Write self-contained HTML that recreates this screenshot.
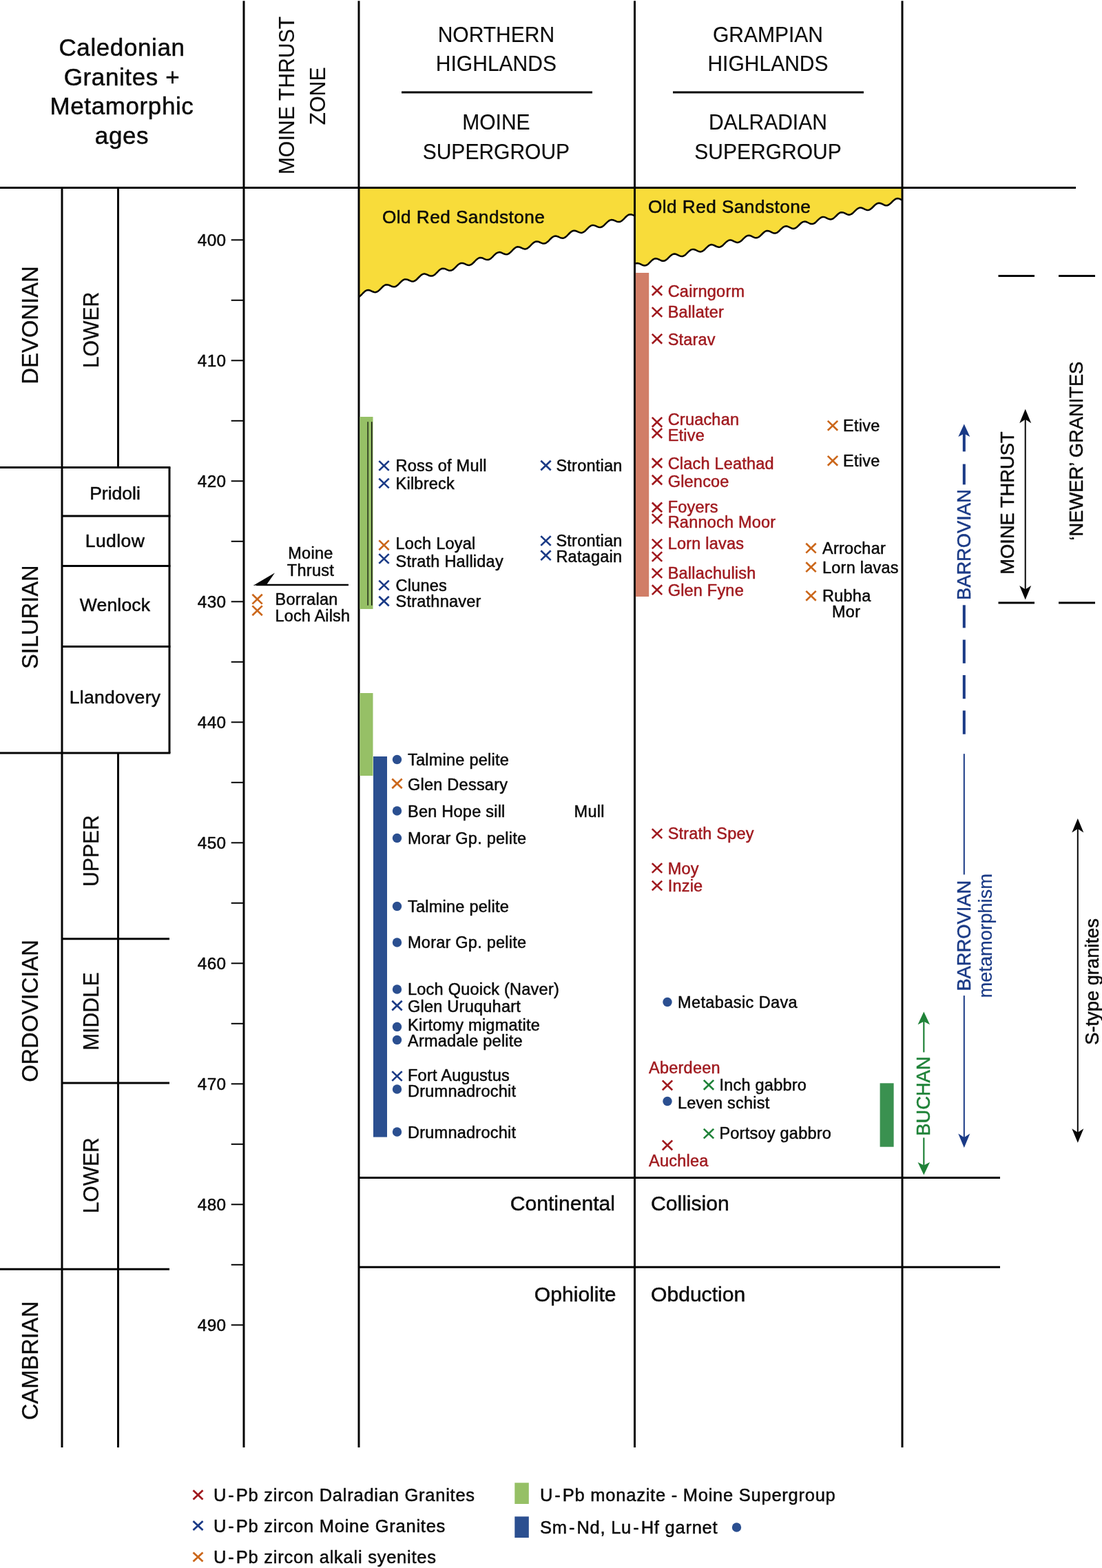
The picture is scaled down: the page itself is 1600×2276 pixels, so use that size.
<!DOCTYPE html>
<html lang="en"><head><meta charset="utf-8"><title>Caledonian Granites + Metamorphic ages</title>
<style>
html,body{margin:0;padding:0;background:#fff;}
body{width:1600px;height:2276px;overflow:hidden;}
svg{display:block;font-family:"Liberation Sans", sans-serif;}
svg text{white-space:pre;stroke-width:0.5px;stroke-linejoin:round;}
</style></head><body>
<svg width="1600" height="2276" viewBox="0 0 1600 2276">
<rect width="1600" height="2276" fill="#ffffff"/>
<path d="M521.0 431.0L523.0 429.5L525.0 427.6L527.0 425.5L529.0 423.6L531.0 422.1L533.0 421.2L535.0 421.1L537.0 421.5L539.0 422.4L541.0 423.3L543.0 424.0L545.0 424.2L547.0 423.8L549.0 422.6L551.0 420.9L553.0 418.9L555.0 416.8L557.0 415.0L559.0 413.8L561.0 413.2L563.1 413.4L565.1 414.0L567.1 414.9L569.1 415.8L571.1 416.3L573.1 416.3L575.1 415.5L577.1 414.1L579.1 412.2L581.1 410.2L583.1 408.2L585.1 406.6L587.1 405.6L589.1 405.4L591.1 405.7L593.1 406.5L595.1 407.4L597.1 408.2L599.1 408.5L601.1 408.2L603.1 407.2L605.1 405.5L607.1 403.5L609.1 401.5L611.1 399.6L613.1 398.3L615.1 397.6L617.1 397.6L619.1 398.2L621.1 399.1L623.1 400.0L625.1 400.6L627.1 400.6L629.1 400.0L631.1 398.7L633.1 396.9L635.1 394.8L637.1 392.8L639.1 391.1L641.1 390.1L643.2 389.7L645.2 389.9L647.2 390.7L649.2 391.6L651.2 392.4L653.2 392.8L655.2 392.6L657.2 391.7L659.2 390.1L661.2 388.2L663.2 386.1L665.2 384.2L667.2 382.8L669.2 382.0L671.2 381.9L673.2 382.3L675.2 383.2L677.2 384.1L679.2 384.8L681.2 385.0L683.2 384.4L685.2 383.3L687.2 381.5L689.2 379.5L691.2 377.4L693.2 375.7L695.2 374.5L697.2 374.0L699.2 374.2L701.2 374.8L703.2 375.8L705.2 376.6L707.2 377.1L709.2 377.0L711.2 376.2L713.2 374.7L715.2 372.8L717.2 370.7L719.2 368.8L721.2 367.3L723.3 366.4L725.3 366.1L727.3 366.5L729.3 367.4L731.3 368.3L733.3 369.0L735.3 369.3L737.3 368.9L739.3 367.8L741.3 366.1L743.3 364.1L745.3 362.0L747.3 360.2L749.3 358.9L751.3 358.3L753.3 358.4L755.3 359.0L757.3 359.9L759.3 360.8L761.3 361.4L763.3 361.4L765.3 360.7L767.3 359.3L769.3 357.5L771.3 355.4L773.3 353.4L775.3 351.8L777.3 350.8L779.3 350.4L781.3 350.7L783.3 351.5L785.3 352.4L787.3 353.2L789.3 353.6L791.3 353.3L793.3 352.3L795.3 350.8L797.3 348.8L799.3 346.7L801.4 344.8L803.4 343.4L805.4 342.7L807.4 342.6L809.4 343.2L811.4 344.0L813.4 345.0L815.4 345.6L817.4 345.7L819.4 345.1L821.4 343.9L823.4 342.1L825.4 340.0L827.4 338.0L829.4 336.3L831.4 335.2L833.4 334.7L835.4 335.0L837.4 335.7L839.4 336.6L841.4 337.4L843.4 337.9L845.4 337.7L847.4 336.8L849.4 335.4L851.4 333.4L853.4 331.3L855.4 329.4L857.4 327.9L859.4 327.1L861.4 326.9L863.4 327.4L865.4 328.2L867.4 329.1L869.4 329.8L871.4 330.0L873.4 329.6L875.4 328.4L877.4 326.7L879.4 324.7L881.5 322.6L883.5 320.9L885.5 319.6L887.5 319.1L889.5 319.2L891.5 319.8L893.5 320.7L895.5 321.6L897.5 322.1L899.5 322.1L901.5 321.3L903.5 319.9L905.5 318.1L907.5 316.0L909.5 314.0L911.5 312.4L913.5 311.5L915.5 311.2L917.5 311.6L919.5 312.4L921.5 313.3L921.5 272.5L521 272.5Z" fill="#f8dc3a"/>
<path d="M521.0 431.0L523.0 429.5L525.0 427.6L527.0 425.5L529.0 423.6L531.0 422.1L533.0 421.2L535.0 421.1L537.0 421.5L539.0 422.4L541.0 423.3L543.0 424.0L545.0 424.2L547.0 423.8L549.0 422.6L551.0 420.9L553.0 418.9L555.0 416.8L557.0 415.0L559.0 413.8L561.0 413.2L563.1 413.4L565.1 414.0L567.1 414.9L569.1 415.8L571.1 416.3L573.1 416.3L575.1 415.5L577.1 414.1L579.1 412.2L581.1 410.2L583.1 408.2L585.1 406.6L587.1 405.6L589.1 405.4L591.1 405.7L593.1 406.5L595.1 407.4L597.1 408.2L599.1 408.5L601.1 408.2L603.1 407.2L605.1 405.5L607.1 403.5L609.1 401.5L611.1 399.6L613.1 398.3L615.1 397.6L617.1 397.6L619.1 398.2L621.1 399.1L623.1 400.0L625.1 400.6L627.1 400.6L629.1 400.0L631.1 398.7L633.1 396.9L635.1 394.8L637.1 392.8L639.1 391.1L641.1 390.1L643.2 389.7L645.2 389.9L647.2 390.7L649.2 391.6L651.2 392.4L653.2 392.8L655.2 392.6L657.2 391.7L659.2 390.1L661.2 388.2L663.2 386.1L665.2 384.2L667.2 382.8L669.2 382.0L671.2 381.9L673.2 382.3L675.2 383.2L677.2 384.1L679.2 384.8L681.2 385.0L683.2 384.4L685.2 383.3L687.2 381.5L689.2 379.5L691.2 377.4L693.2 375.7L695.2 374.5L697.2 374.0L699.2 374.2L701.2 374.8L703.2 375.8L705.2 376.6L707.2 377.1L709.2 377.0L711.2 376.2L713.2 374.7L715.2 372.8L717.2 370.7L719.2 368.8L721.2 367.3L723.3 366.4L725.3 366.1L727.3 366.5L729.3 367.4L731.3 368.3L733.3 369.0L735.3 369.3L737.3 368.9L739.3 367.8L741.3 366.1L743.3 364.1L745.3 362.0L747.3 360.2L749.3 358.9L751.3 358.3L753.3 358.4L755.3 359.0L757.3 359.9L759.3 360.8L761.3 361.4L763.3 361.4L765.3 360.7L767.3 359.3L769.3 357.5L771.3 355.4L773.3 353.4L775.3 351.8L777.3 350.8L779.3 350.4L781.3 350.7L783.3 351.5L785.3 352.4L787.3 353.2L789.3 353.6L791.3 353.3L793.3 352.3L795.3 350.8L797.3 348.8L799.3 346.7L801.4 344.8L803.4 343.4L805.4 342.7L807.4 342.6L809.4 343.2L811.4 344.0L813.4 345.0L815.4 345.6L817.4 345.7L819.4 345.1L821.4 343.9L823.4 342.1L825.4 340.0L827.4 338.0L829.4 336.3L831.4 335.2L833.4 334.7L835.4 335.0L837.4 335.7L839.4 336.6L841.4 337.4L843.4 337.9L845.4 337.7L847.4 336.8L849.4 335.4L851.4 333.4L853.4 331.3L855.4 329.4L857.4 327.9L859.4 327.1L861.4 326.9L863.4 327.4L865.4 328.2L867.4 329.1L869.4 329.8L871.4 330.0L873.4 329.6L875.4 328.4L877.4 326.7L879.4 324.7L881.5 322.6L883.5 320.9L885.5 319.6L887.5 319.1L889.5 319.2L891.5 319.8L893.5 320.7L895.5 321.6L897.5 322.1L899.5 322.1L901.5 321.3L903.5 319.9L905.5 318.1L907.5 316.0L909.5 314.0L911.5 312.4L913.5 311.5L915.5 311.2L917.5 311.6L919.5 312.4L921.5 313.3" fill="none" stroke="#050505" stroke-width="2.5" stroke-linejoin="round"/>
<path d="M921.5 383.2L923.5 382.2L925.5 382.0L927.5 382.4L929.5 383.2L931.5 384.2L933.5 385.1L935.5 385.5L937.5 385.3L939.5 384.4L941.5 382.9L943.5 380.9L945.5 378.9L947.5 377.1L949.5 375.9L951.5 375.3L953.5 375.4L955.5 376.1L957.5 377.0L959.5 378.0L961.6 378.7L963.6 378.8L965.6 378.2L967.6 376.9L969.6 375.2L971.6 373.2L973.6 371.2L975.6 369.7L977.6 368.8L979.6 368.5L981.6 369.0L983.6 369.8L985.6 370.9L987.6 371.7L989.6 372.1L991.6 371.9L993.6 370.9L995.6 369.4L997.6 367.4L999.6 365.4L1001.6 363.7L1003.6 362.4L1005.6 361.9L1007.6 362.0L1009.6 362.7L1011.6 363.7L1013.6 364.6L1015.6 365.3L1017.6 365.4L1019.6 364.8L1021.6 363.5L1023.6 361.7L1025.6 359.7L1027.6 357.8L1029.6 356.2L1031.6 355.3L1033.6 355.1L1035.6 355.6L1037.6 356.5L1039.7 357.5L1041.7 358.3L1043.7 358.7L1045.7 358.4L1047.7 357.5L1049.7 355.9L1051.7 353.9L1053.7 351.9L1055.7 350.2L1057.7 349.0L1059.7 348.4L1061.7 348.6L1063.7 349.3L1065.7 350.3L1067.7 351.2L1069.7 351.9L1071.7 351.9L1073.7 351.3L1075.7 350.0L1077.7 348.2L1079.7 346.2L1081.7 344.3L1083.7 342.8L1085.7 341.9L1087.7 341.7L1089.7 342.2L1091.7 343.1L1093.7 344.1L1095.7 344.9L1097.7 345.3L1099.7 345.0L1101.7 344.0L1103.7 342.4L1105.7 340.5L1107.7 338.5L1109.7 336.7L1111.7 335.5L1113.7 335.0L1115.8 335.2L1117.8 335.9L1119.8 336.9L1121.8 337.9L1123.8 338.5L1125.8 338.5L1127.8 337.9L1129.8 336.5L1131.8 334.7L1133.8 332.7L1135.8 330.8L1137.8 329.3L1139.8 328.5L1141.8 328.3L1143.8 328.8L1145.8 329.7L1147.8 330.7L1149.8 331.5L1151.8 331.9L1153.8 331.6L1155.8 330.5L1157.8 328.9L1159.8 327.0L1161.8 325.0L1163.8 323.3L1165.8 322.1L1167.8 321.6L1169.8 321.8L1171.8 322.5L1173.8 323.5L1175.8 324.5L1177.8 325.1L1179.8 325.1L1181.8 324.4L1183.8 323.1L1185.8 321.2L1187.8 319.2L1189.8 317.3L1191.8 315.9L1193.9 315.0L1195.9 314.9L1197.9 315.4L1199.9 316.3L1201.9 317.3L1203.9 318.1L1205.9 318.5L1207.9 318.1L1209.9 317.1L1211.9 315.4L1213.9 313.5L1215.9 311.5L1217.9 309.8L1219.9 308.6L1221.9 308.2L1223.9 308.4L1225.9 309.1L1227.9 310.1L1229.9 311.1L1231.9 311.7L1233.9 311.7L1235.9 310.9L1237.9 309.6L1239.9 307.7L1241.9 305.7L1243.9 303.8L1245.9 302.4L1247.9 301.6L1249.9 301.5L1251.9 302.0L1253.9 302.9L1255.9 303.9L1257.9 304.7L1259.9 305.0L1261.9 304.7L1263.9 303.6L1265.9 302.0L1267.9 300.0L1269.9 298.0L1272.0 296.3L1274.0 295.2L1276.0 294.7L1278.0 295.0L1280.0 295.7L1282.0 296.7L1284.0 297.7L1286.0 298.3L1288.0 298.2L1290.0 297.5L1292.0 296.1L1294.0 294.3L1296.0 292.2L1298.0 290.4L1300.0 288.9L1302.0 288.2L1304.0 288.1L1306.0 288.6L1308.0 289.5L1310.0 290.6L1310 272.5L921.5 272.5Z" fill="#f8dc3a"/>
<path d="M921.5 383.2L923.5 382.2L925.5 382.0L927.5 382.4L929.5 383.2L931.5 384.2L933.5 385.1L935.5 385.5L937.5 385.3L939.5 384.4L941.5 382.9L943.5 380.9L945.5 378.9L947.5 377.1L949.5 375.9L951.5 375.3L953.5 375.4L955.5 376.1L957.5 377.0L959.5 378.0L961.6 378.7L963.6 378.8L965.6 378.2L967.6 376.9L969.6 375.2L971.6 373.2L973.6 371.2L975.6 369.7L977.6 368.8L979.6 368.5L981.6 369.0L983.6 369.8L985.6 370.9L987.6 371.7L989.6 372.1L991.6 371.9L993.6 370.9L995.6 369.4L997.6 367.4L999.6 365.4L1001.6 363.7L1003.6 362.4L1005.6 361.9L1007.6 362.0L1009.6 362.7L1011.6 363.7L1013.6 364.6L1015.6 365.3L1017.6 365.4L1019.6 364.8L1021.6 363.5L1023.6 361.7L1025.6 359.7L1027.6 357.8L1029.6 356.2L1031.6 355.3L1033.6 355.1L1035.6 355.6L1037.6 356.5L1039.7 357.5L1041.7 358.3L1043.7 358.7L1045.7 358.4L1047.7 357.5L1049.7 355.9L1051.7 353.9L1053.7 351.9L1055.7 350.2L1057.7 349.0L1059.7 348.4L1061.7 348.6L1063.7 349.3L1065.7 350.3L1067.7 351.2L1069.7 351.9L1071.7 351.9L1073.7 351.3L1075.7 350.0L1077.7 348.2L1079.7 346.2L1081.7 344.3L1083.7 342.8L1085.7 341.9L1087.7 341.7L1089.7 342.2L1091.7 343.1L1093.7 344.1L1095.7 344.9L1097.7 345.3L1099.7 345.0L1101.7 344.0L1103.7 342.4L1105.7 340.5L1107.7 338.5L1109.7 336.7L1111.7 335.5L1113.7 335.0L1115.8 335.2L1117.8 335.9L1119.8 336.9L1121.8 337.9L1123.8 338.5L1125.8 338.5L1127.8 337.9L1129.8 336.5L1131.8 334.7L1133.8 332.7L1135.8 330.8L1137.8 329.3L1139.8 328.5L1141.8 328.3L1143.8 328.8L1145.8 329.7L1147.8 330.7L1149.8 331.5L1151.8 331.9L1153.8 331.6L1155.8 330.5L1157.8 328.9L1159.8 327.0L1161.8 325.0L1163.8 323.3L1165.8 322.1L1167.8 321.6L1169.8 321.8L1171.8 322.5L1173.8 323.5L1175.8 324.5L1177.8 325.1L1179.8 325.1L1181.8 324.4L1183.8 323.1L1185.8 321.2L1187.8 319.2L1189.8 317.3L1191.8 315.9L1193.9 315.0L1195.9 314.9L1197.9 315.4L1199.9 316.3L1201.9 317.3L1203.9 318.1L1205.9 318.5L1207.9 318.1L1209.9 317.1L1211.9 315.4L1213.9 313.5L1215.9 311.5L1217.9 309.8L1219.9 308.6L1221.9 308.2L1223.9 308.4L1225.9 309.1L1227.9 310.1L1229.9 311.1L1231.9 311.7L1233.9 311.7L1235.9 310.9L1237.9 309.6L1239.9 307.7L1241.9 305.7L1243.9 303.8L1245.9 302.4L1247.9 301.6L1249.9 301.5L1251.9 302.0L1253.9 302.9L1255.9 303.9L1257.9 304.7L1259.9 305.0L1261.9 304.7L1263.9 303.6L1265.9 302.0L1267.9 300.0L1269.9 298.0L1272.0 296.3L1274.0 295.2L1276.0 294.7L1278.0 295.0L1280.0 295.7L1282.0 296.7L1284.0 297.7L1286.0 298.3L1288.0 298.2L1290.0 297.5L1292.0 296.1L1294.0 294.3L1296.0 292.2L1298.0 290.4L1300.0 288.9L1302.0 288.2L1304.0 288.1L1306.0 288.6L1308.0 289.5L1310.0 290.6" fill="none" stroke="#050505" stroke-width="2.5" stroke-linejoin="round"/>
<text x="555" y="324" font-size="26.2" fill="#0a0a0a" stroke="#0a0a0a" text-anchor="start" letter-spacing="0.45">Old Red Sandstone</text>
<text x="941" y="309.1" font-size="26.2" fill="#0a0a0a" stroke="#0a0a0a" text-anchor="start" letter-spacing="0.45">Old Red Sandstone</text>
<line x1="0" y1="272.5" x2="1562" y2="272.5" stroke="#050505" stroke-width="3.0" />
<line x1="354" y1="1.3" x2="354" y2="2101" stroke="#050505" stroke-width="3.0" />
<line x1="521" y1="1.3" x2="521" y2="2101" stroke="#050505" stroke-width="3.0" />
<line x1="921.5" y1="1.3" x2="921.5" y2="2101" stroke="#050505" stroke-width="3.0" />
<line x1="1310" y1="1.3" x2="1310" y2="2101" stroke="#050505" stroke-width="3.0" />
<line x1="90" y1="272.5" x2="90" y2="2101" stroke="#050505" stroke-width="3.0" />
<line x1="171.5" y1="272.5" x2="171.5" y2="678.6" stroke="#050505" stroke-width="3.0" />
<line x1="171.5" y1="1093" x2="171.5" y2="2101" stroke="#050505" stroke-width="3.0" />
<line x1="246" y1="678.6" x2="246" y2="1093" stroke="#050505" stroke-width="3.0" />
<line x1="0" y1="678.6" x2="247.4" y2="678.6" stroke="#050505" stroke-width="3.0" />
<line x1="90" y1="749" x2="247.4" y2="749" stroke="#050505" stroke-width="3.0" />
<line x1="90" y1="821.5" x2="247.4" y2="821.5" stroke="#050505" stroke-width="3.0" />
<line x1="90" y1="938.5" x2="247.4" y2="938.5" stroke="#050505" stroke-width="3.0" />
<line x1="0" y1="1093" x2="247.4" y2="1093" stroke="#050505" stroke-width="3.0" />
<line x1="90" y1="1362.8" x2="246" y2="1362.8" stroke="#050505" stroke-width="3.0" />
<line x1="90" y1="1572" x2="246" y2="1572" stroke="#050505" stroke-width="3.0" />
<line x1="0" y1="1842.3" x2="246" y2="1842.3" stroke="#050505" stroke-width="3.0" />
<line x1="521" y1="1709.5" x2="1452" y2="1709.5" stroke="#050505" stroke-width="3.0" />
<line x1="521" y1="1839.2" x2="1452" y2="1839.2" stroke="#050505" stroke-width="3.0" />
<line x1="583" y1="134" x2="860" y2="134" stroke="#050505" stroke-width="3.0" />
<line x1="977" y1="134" x2="1254" y2="134" stroke="#050505" stroke-width="3.0" />
<line x1="1449.5" y1="400.6" x2="1502" y2="400.6" stroke="#050505" stroke-width="3.0" />
<line x1="1537" y1="400.6" x2="1590" y2="400.6" stroke="#050505" stroke-width="3.0" />
<line x1="1449.5" y1="875" x2="1502" y2="875" stroke="#050505" stroke-width="3.0" />
<line x1="1537" y1="875" x2="1590" y2="875" stroke="#050505" stroke-width="3.0" />
<line x1="335.7" y1="348.3" x2="354" y2="348.3" stroke="#050505" stroke-width="2.0" />
<text x="328.3" y="356.7" font-size="24.3" fill="#0a0a0a" stroke="#0a0a0a" text-anchor="end" letter-spacing="0.3">400</text>
<line x1="335.7" y1="435.8" x2="354" y2="435.8" stroke="#050505" stroke-width="2.0" />
<line x1="335.7" y1="523.3" x2="354" y2="523.3" stroke="#050505" stroke-width="2.0" />
<text x="328.3" y="531.6999999999999" font-size="24.3" fill="#0a0a0a" stroke="#0a0a0a" text-anchor="end" letter-spacing="0.3">410</text>
<line x1="335.7" y1="610.8" x2="354" y2="610.8" stroke="#050505" stroke-width="2.0" />
<line x1="335.7" y1="698.3" x2="354" y2="698.3" stroke="#050505" stroke-width="2.0" />
<text x="328.3" y="706.6999999999999" font-size="24.3" fill="#0a0a0a" stroke="#0a0a0a" text-anchor="end" letter-spacing="0.3">420</text>
<line x1="335.7" y1="785.8" x2="354" y2="785.8" stroke="#050505" stroke-width="2.0" />
<line x1="335.7" y1="873.3" x2="354" y2="873.3" stroke="#050505" stroke-width="2.0" />
<text x="328.3" y="881.6999999999999" font-size="24.3" fill="#0a0a0a" stroke="#0a0a0a" text-anchor="end" letter-spacing="0.3">430</text>
<line x1="335.7" y1="960.8" x2="354" y2="960.8" stroke="#050505" stroke-width="2.0" />
<line x1="335.7" y1="1048.3" x2="354" y2="1048.3" stroke="#050505" stroke-width="2.0" />
<text x="328.3" y="1056.7" font-size="24.3" fill="#0a0a0a" stroke="#0a0a0a" text-anchor="end" letter-spacing="0.3">440</text>
<line x1="335.7" y1="1135.8" x2="354" y2="1135.8" stroke="#050505" stroke-width="2.0" />
<line x1="335.7" y1="1223.3" x2="354" y2="1223.3" stroke="#050505" stroke-width="2.0" />
<text x="328.3" y="1231.7" font-size="24.3" fill="#0a0a0a" stroke="#0a0a0a" text-anchor="end" letter-spacing="0.3">450</text>
<line x1="335.7" y1="1310.8" x2="354" y2="1310.8" stroke="#050505" stroke-width="2.0" />
<line x1="335.7" y1="1398.3" x2="354" y2="1398.3" stroke="#050505" stroke-width="2.0" />
<text x="328.3" y="1406.7" font-size="24.3" fill="#0a0a0a" stroke="#0a0a0a" text-anchor="end" letter-spacing="0.3">460</text>
<line x1="335.7" y1="1485.8" x2="354" y2="1485.8" stroke="#050505" stroke-width="2.0" />
<line x1="335.7" y1="1573.3" x2="354" y2="1573.3" stroke="#050505" stroke-width="2.0" />
<text x="328.3" y="1581.7" font-size="24.3" fill="#0a0a0a" stroke="#0a0a0a" text-anchor="end" letter-spacing="0.3">470</text>
<line x1="335.7" y1="1660.8" x2="354" y2="1660.8" stroke="#050505" stroke-width="2.0" />
<line x1="335.7" y1="1748.3" x2="354" y2="1748.3" stroke="#050505" stroke-width="2.0" />
<text x="328.3" y="1756.7" font-size="24.3" fill="#0a0a0a" stroke="#0a0a0a" text-anchor="end" letter-spacing="0.3">480</text>
<line x1="335.7" y1="1835.8" x2="354" y2="1835.8" stroke="#050505" stroke-width="2.0" />
<line x1="335.7" y1="1923.3" x2="354" y2="1923.3" stroke="#050505" stroke-width="2.0" />
<text x="328.3" y="1931.7" font-size="24.3" fill="#0a0a0a" stroke="#0a0a0a" text-anchor="end" letter-spacing="0.3">490</text>
<text x="177" y="81.0" font-size="35" fill="#0a0a0a" stroke="#0a0a0a" text-anchor="middle" letter-spacing="0.6">Caledonian</text>
<text x="177" y="123.5" font-size="35" fill="#0a0a0a" stroke="#0a0a0a" text-anchor="middle" letter-spacing="0.6">Granites +</text>
<text x="177" y="166.0" font-size="35" fill="#0a0a0a" stroke="#0a0a0a" text-anchor="middle" letter-spacing="0.6">Metamorphic</text>
<text x="177" y="208.5" font-size="35" fill="#0a0a0a" stroke="#0a0a0a" text-anchor="middle" letter-spacing="0.6">ages</text>
<text transform="translate(720.4 60.8) scale(0.962 1)" font-size="31.2" fill="#0a0a0a" stroke="#0a0a0a" text-anchor="middle" style="stroke-width:0.15px">NORTHERN</text>
<text transform="translate(720.4 102.5) scale(0.962 1)" font-size="31.2" fill="#0a0a0a" stroke="#0a0a0a" text-anchor="middle" style="stroke-width:0.15px">HIGHLANDS</text>
<text transform="translate(720.4 188.1) scale(0.962 1)" font-size="31.2" fill="#0a0a0a" stroke="#0a0a0a" text-anchor="middle" style="stroke-width:0.15px">MOINE</text>
<text transform="translate(720.4 230.6) scale(0.962 1)" font-size="31.2" fill="#0a0a0a" stroke="#0a0a0a" text-anchor="middle" style="stroke-width:0.15px">SUPERGROUP</text>
<text transform="translate(1115 60.8) scale(0.962 1)" font-size="31.2" fill="#0a0a0a" stroke="#0a0a0a" text-anchor="middle" style="stroke-width:0.15px">GRAMPIAN</text>
<text transform="translate(1115 102.5) scale(0.962 1)" font-size="31.2" fill="#0a0a0a" stroke="#0a0a0a" text-anchor="middle" style="stroke-width:0.15px">HIGHLANDS</text>
<text transform="translate(1115 188.1) scale(0.962 1)" font-size="31.2" fill="#0a0a0a" stroke="#0a0a0a" text-anchor="middle" style="stroke-width:0.15px">DALRADIAN</text>
<text transform="translate(1115 230.6) scale(0.962 1)" font-size="31.2" fill="#0a0a0a" stroke="#0a0a0a" text-anchor="middle" style="stroke-width:0.15px">SUPERGROUP</text>
<text transform="translate(426.5 138.5) rotate(-90) scale(0.97 1)" font-size="31.2" fill="#0a0a0a" stroke="#0a0a0a" text-anchor="middle" style="stroke-width:0.15px">MOINE THRUST</text>
<text transform="translate(471.9 139.4) rotate(-90) scale(0.97 1)" font-size="31.2" fill="#0a0a0a" stroke="#0a0a0a" text-anchor="middle" style="stroke-width:0.15px">ZONE</text>
<text transform="translate(54.5 472) rotate(-90) scale(0.97 1)" font-size="33.9" fill="#0a0a0a" stroke="#0a0a0a" text-anchor="middle" style="stroke-width:0.3px">DEVONIAN</text>
<text transform="translate(54.5 895.7) rotate(-90) scale(0.965 1)" font-size="33.9" fill="#0a0a0a" stroke="#0a0a0a" text-anchor="middle" style="stroke-width:0.3px">SILURIAN</text>
<text transform="translate(54.5 1467.5) rotate(-90) scale(0.963 1)" font-size="33.9" fill="#0a0a0a" stroke="#0a0a0a" text-anchor="middle" style="stroke-width:0.3px">ORDOVICIAN</text>
<text transform="translate(54.5 1975) rotate(-90) scale(0.965 1)" font-size="33.9" fill="#0a0a0a" stroke="#0a0a0a" text-anchor="middle" style="stroke-width:0.3px">CAMBRIAN</text>
<text transform="translate(142.8 479) rotate(-90) scale(0.975 1)" font-size="30.9" fill="#0a0a0a" stroke="#0a0a0a" text-anchor="middle" style="stroke-width:0.3px">LOWER</text>
<text transform="translate(142.8 1235) rotate(-90) scale(0.975 1)" font-size="30.9" fill="#0a0a0a" stroke="#0a0a0a" text-anchor="middle" style="stroke-width:0.3px">UPPER</text>
<text transform="translate(142.8 1468) rotate(-90) scale(0.972 1)" font-size="30.9" fill="#0a0a0a" stroke="#0a0a0a" text-anchor="middle" style="stroke-width:0.3px">MIDDLE</text>
<text transform="translate(142.8 1706.3) rotate(-90) scale(0.972 1)" font-size="30.9" fill="#0a0a0a" stroke="#0a0a0a" text-anchor="middle" style="stroke-width:0.3px">LOWER</text>
<text x="167" y="724.5" font-size="26.5" fill="#0a0a0a" stroke="#0a0a0a" text-anchor="middle">Pridoli</text>
<text x="167" y="793.8" font-size="26.5" fill="#0a0a0a" stroke="#0a0a0a" text-anchor="middle" letter-spacing="0.4">Ludlow</text>
<text x="167" y="886.5" font-size="26.5" fill="#0a0a0a" stroke="#0a0a0a" text-anchor="middle" letter-spacing="0.2">Wenlock</text>
<text x="167" y="1020.8" font-size="26.5" fill="#0a0a0a" stroke="#0a0a0a" text-anchor="middle" letter-spacing="0.3">Llandovery</text>
<rect x="922.9" y="396" width="19.3" height="470" fill="#d17e67"/>
<rect x="522.4" y="605" width="19.1" height="279" fill="#96c066"/>
<line x1="534.1" y1="612.3" x2="534.1" y2="878.7" stroke="#050505" stroke-width="1.2" />
<line x1="539.8" y1="612.3" x2="539.8" y2="878.7" stroke="#050505" stroke-width="1.4" />
<rect x="522.4" y="1006" width="19.1" height="120" fill="#96c066"/>
<rect x="542" y="1098" width="20" height="552.5" fill="#2b4f90"/>
<rect x="1277.6" y="1572.3" width="20" height="92.4" fill="#3a9150"/>
<text x="451" y="810.9" font-size="23.5" fill="#0a0a0a" stroke="#0a0a0a" text-anchor="middle" letter-spacing="0.3">Moine</text>
<text x="451" y="835.5" font-size="23.5" fill="#0a0a0a" stroke="#0a0a0a" text-anchor="middle" letter-spacing="0.3">Thrust</text>
<line x1="372" y1="849" x2="506" y2="849" stroke="#050505" stroke-width="2.3" />
<path d="M367.5 850L399 831.5L387.5 848Z" fill="#050505"/>
<path d="M366.4 862.8L380.8 876.6M366.4 876.6L380.8 862.8" stroke="#cb671b" stroke-width="2.7" fill="none"/>
<path d="M366.4 879.4L380.8 893.2M366.4 893.2L380.8 879.4" stroke="#cb671b" stroke-width="2.7" fill="none"/>
<text x="399.5" y="877.9" font-size="23.5" fill="#0a0a0a" stroke="#0a0a0a" text-anchor="start" letter-spacing="0.3">Borralan</text>
<text x="399.5" y="902.3" font-size="23.5" fill="#0a0a0a" stroke="#0a0a0a" text-anchor="start" letter-spacing="0.15">Loch Ailsh</text>
<path d="M550.3 669.1L564.7 682.9M550.3 682.9L564.7 669.1" stroke="#1a3a86" stroke-width="2.7" fill="none"/>
<text x="574.5" y="683.8" font-size="23.5" fill="#0a0a0a" stroke="#0a0a0a" text-anchor="start" letter-spacing="0.24">Ross of Mull</text>
<path d="M550.3 694.6L564.7 708.4M550.3 708.4L564.7 694.6" stroke="#1a3a86" stroke-width="2.7" fill="none"/>
<text x="574.5" y="710.4" font-size="23.5" fill="#0a0a0a" stroke="#0a0a0a" text-anchor="start" letter-spacing="0.24">Kilbreck</text>
<path d="M550.3 784.4L564.7 798.2M550.3 798.2L564.7 784.4" stroke="#cb671b" stroke-width="2.7" fill="none"/>
<text x="574.5" y="797.2" font-size="23.5" fill="#0a0a0a" stroke="#0a0a0a" text-anchor="start" letter-spacing="0.24">Loch Loyal</text>
<path d="M550.3 804.1L564.7 817.9M550.3 817.9L564.7 804.1" stroke="#1a3a86" stroke-width="2.7" fill="none"/>
<text x="574.5" y="823.3" font-size="23.5" fill="#0a0a0a" stroke="#0a0a0a" text-anchor="start" letter-spacing="0.24">Strath Halliday</text>
<path d="M550.3 842.6L564.7 856.4M550.3 856.4L564.7 842.6" stroke="#1a3a86" stroke-width="2.7" fill="none"/>
<text x="574.5" y="858" font-size="23.5" fill="#0a0a0a" stroke="#0a0a0a" text-anchor="start" letter-spacing="0.24">Clunes</text>
<path d="M550.3 865.7L564.7 879.5M550.3 879.5L564.7 865.7" stroke="#1a3a86" stroke-width="2.7" fill="none"/>
<text x="574.5" y="881.1" font-size="23.5" fill="#0a0a0a" stroke="#0a0a0a" text-anchor="start" letter-spacing="0.24">Strathnaver</text>
<path d="M785.3 668.7L799.7 682.5M785.3 682.5L799.7 668.7" stroke="#1a3a86" stroke-width="2.7" fill="none"/>
<text x="807.4" y="683.8" font-size="23.5" fill="#0a0a0a" stroke="#0a0a0a" text-anchor="start" letter-spacing="0.24">Strontian</text>
<path d="M785.3 778.1L799.7 791.9M785.3 791.9L799.7 778.1" stroke="#1a3a86" stroke-width="2.7" fill="none"/>
<text x="807.4" y="792.8" font-size="23.5" fill="#0a0a0a" stroke="#0a0a0a" text-anchor="start" letter-spacing="0.24">Strontian</text>
<path d="M785.3 799.3L799.7 813.1M785.3 813.1L799.7 799.3" stroke="#1a3a86" stroke-width="2.7" fill="none"/>
<text x="807.4" y="815.9" font-size="23.5" fill="#0a0a0a" stroke="#0a0a0a" text-anchor="start" letter-spacing="0.24">Ratagain</text>
<circle cx="576.5" cy="1102.5" r="6.7" fill="#2b4f90"/>
<text x="592" y="1110.6" font-size="23.5" fill="#0a0a0a" stroke="#0a0a0a" text-anchor="start" letter-spacing="0.24">Talmine pelite</text>
<path d="M569.3 1130.5L583.7 1144.3M569.3 1144.3L583.7 1130.5" stroke="#cb671b" stroke-width="2.7" fill="none"/>
<text x="592" y="1147.4" font-size="23.5" fill="#0a0a0a" stroke="#0a0a0a" text-anchor="start" letter-spacing="0.24">Glen Dessary</text>
<circle cx="576.5" cy="1177" r="6.7" fill="#2b4f90"/>
<text x="592" y="1186.1" font-size="23.5" fill="#0a0a0a" stroke="#0a0a0a" text-anchor="start" letter-spacing="0.24">Ben Hope sill</text>
<circle cx="576.5" cy="1216.5" r="6.7" fill="#2b4f90"/>
<text x="592" y="1225.1" font-size="23.5" fill="#0a0a0a" stroke="#0a0a0a" text-anchor="start" letter-spacing="0.24">Morar Gp. pelite</text>
<circle cx="576.5" cy="1315.5" r="6.7" fill="#2b4f90"/>
<text x="592" y="1323.6" font-size="23.5" fill="#0a0a0a" stroke="#0a0a0a" text-anchor="start" letter-spacing="0.24">Talmine pelite</text>
<circle cx="576.5" cy="1368" r="6.7" fill="#2b4f90"/>
<text x="592" y="1376.3" font-size="23.5" fill="#0a0a0a" stroke="#0a0a0a" text-anchor="start" letter-spacing="0.24">Morar Gp. pelite</text>
<circle cx="576.5" cy="1436" r="6.7" fill="#2b4f90"/>
<text x="592" y="1443.8" font-size="23.5" fill="#0a0a0a" stroke="#0a0a0a" text-anchor="start" letter-spacing="0.24">Loch Quoick (Naver)</text>
<path d="M569.3 1452.7L583.7 1466.5M569.3 1466.5L583.7 1452.7" stroke="#1a3a86" stroke-width="2.7" fill="none"/>
<text x="592" y="1468.6" font-size="23.5" fill="#0a0a0a" stroke="#0a0a0a" text-anchor="start" letter-spacing="0.24">Glen Uruquhart</text>
<circle cx="576.5" cy="1490.5" r="6.7" fill="#2b4f90"/>
<text x="592" y="1495.7" font-size="23.5" fill="#0a0a0a" stroke="#0a0a0a" text-anchor="start" letter-spacing="0.24">Kirtomy migmatite</text>
<circle cx="576.5" cy="1509.5" r="6.7" fill="#2b4f90"/>
<text x="592" y="1518.6" font-size="23.5" fill="#0a0a0a" stroke="#0a0a0a" text-anchor="start" letter-spacing="0.24">Armadale pelite</text>
<path d="M569.3 1555.1L583.7 1568.9M569.3 1568.9L583.7 1555.1" stroke="#1a3a86" stroke-width="2.7" fill="none"/>
<text x="592" y="1568.5" font-size="23.5" fill="#0a0a0a" stroke="#0a0a0a" text-anchor="start" letter-spacing="0.24">Fort Augustus</text>
<circle cx="576.5" cy="1581" r="6.7" fill="#2b4f90"/>
<text x="592" y="1591.7" font-size="23.5" fill="#0a0a0a" stroke="#0a0a0a" text-anchor="start" letter-spacing="0.24">Drumnadrochit</text>
<circle cx="576.5" cy="1643" r="6.7" fill="#2b4f90"/>
<text x="592" y="1652.1" font-size="23.5" fill="#0a0a0a" stroke="#0a0a0a" text-anchor="start" letter-spacing="0.24">Drumnadrochit</text>
<text x="833.6" y="1186.1" font-size="23.5" fill="#0a0a0a" stroke="#0a0a0a" text-anchor="start" letter-spacing="0.24">Mull</text>
<path d="M946.8 414.9L961.2 428.7M946.8 428.7L961.2 414.9" stroke="#a01a1f" stroke-width="2.7" fill="none"/>
<text x="969.7" y="431.2" font-size="23.5" fill="#a01a1f" stroke="#a01a1f" text-anchor="start" letter-spacing="0.2">Cairngorm</text>
<path d="M946.8 446.1L961.2 459.9M946.8 459.9L961.2 446.1" stroke="#a01a1f" stroke-width="2.7" fill="none"/>
<text x="969.7" y="461.3" font-size="23.5" fill="#a01a1f" stroke="#a01a1f" text-anchor="start" letter-spacing="0.2">Ballater</text>
<path d="M946.8 484.9L961.2 498.7M946.8 498.7L961.2 484.9" stroke="#a01a1f" stroke-width="2.7" fill="none"/>
<text x="969.7" y="500.6" font-size="23.5" fill="#a01a1f" stroke="#a01a1f" text-anchor="start" letter-spacing="0.2">Starav</text>
<path d="M946.8 605.9L961.2 619.7M946.8 619.7L961.2 605.9" stroke="#a01a1f" stroke-width="2.7" fill="none"/>
<text x="969.7" y="617.2" font-size="23.5" fill="#a01a1f" stroke="#a01a1f" text-anchor="start" letter-spacing="0.2">Cruachan</text>
<path d="M946.8 621.9L961.2 635.7M946.8 635.7L961.2 621.9" stroke="#a01a1f" stroke-width="2.7" fill="none"/>
<text x="969.7" y="640.2" font-size="23.5" fill="#a01a1f" stroke="#a01a1f" text-anchor="start" letter-spacing="0.2">Etive</text>
<path d="M946.8 665.2L961.2 679.0M946.8 679.0L961.2 665.2" stroke="#a01a1f" stroke-width="2.7" fill="none"/>
<text x="969.7" y="680.8" font-size="23.5" fill="#a01a1f" stroke="#a01a1f" text-anchor="start" letter-spacing="0.2">Clach Leathad</text>
<path d="M946.8 689.7L961.2 703.5M946.8 703.5L961.2 689.7" stroke="#a01a1f" stroke-width="2.7" fill="none"/>
<text x="969.7" y="707.4" font-size="23.5" fill="#a01a1f" stroke="#a01a1f" text-anchor="start" letter-spacing="0.2">Glencoe</text>
<path d="M946.8 729.5L961.2 743.3M946.8 743.3L961.2 729.5" stroke="#a01a1f" stroke-width="2.7" fill="none"/>
<text x="969.7" y="743.6" font-size="23.5" fill="#a01a1f" stroke="#a01a1f" text-anchor="start" letter-spacing="0.2">Foyers</text>
<path d="M946.8 746.1L961.2 759.9M946.8 759.9L961.2 746.1" stroke="#a01a1f" stroke-width="2.7" fill="none"/>
<text x="969.7" y="766.2" font-size="23.5" fill="#a01a1f" stroke="#a01a1f" text-anchor="start" letter-spacing="0.2">Rannoch Moor</text>
<path d="M946.8 782.6L961.2 796.4M946.8 796.4L961.2 782.6" stroke="#a01a1f" stroke-width="2.7" fill="none"/>
<text x="969.7" y="796.6" font-size="23.5" fill="#a01a1f" stroke="#a01a1f" text-anchor="start" letter-spacing="0.2">Lorn lavas</text>
<path d="M946.8 801.1L961.2 814.9M946.8 814.9L961.2 801.1" stroke="#a01a1f" stroke-width="2.7" fill="none"/>
<path d="M946.8 825.1L961.2 838.9M946.8 838.9L961.2 825.1" stroke="#a01a1f" stroke-width="2.7" fill="none"/>
<text x="969.7" y="840.3" font-size="23.5" fill="#a01a1f" stroke="#a01a1f" text-anchor="start" letter-spacing="0.2">Ballachulish</text>
<path d="M946.8 849.3L961.2 863.1M946.8 863.1L961.2 849.3" stroke="#a01a1f" stroke-width="2.7" fill="none"/>
<text x="969.7" y="864.8" font-size="23.5" fill="#a01a1f" stroke="#a01a1f" text-anchor="start" letter-spacing="0.2">Glen Fyne</text>
<path d="M946.8 1203.1L961.2 1216.9M946.8 1216.9L961.2 1203.1" stroke="#a01a1f" stroke-width="2.7" fill="none"/>
<text x="969.7" y="1218.4" font-size="23.5" fill="#a01a1f" stroke="#a01a1f" text-anchor="start" letter-spacing="0.2">Strath Spey</text>
<path d="M946.8 1253.1L961.2 1266.9M946.8 1266.9L961.2 1253.1" stroke="#a01a1f" stroke-width="2.7" fill="none"/>
<text x="969.7" y="1269.2" font-size="23.5" fill="#a01a1f" stroke="#a01a1f" text-anchor="start" letter-spacing="0.2">Moy</text>
<path d="M946.8 1278.6L961.2 1292.4M946.8 1292.4L961.2 1278.6" stroke="#a01a1f" stroke-width="2.7" fill="none"/>
<text x="969.7" y="1293.9" font-size="23.5" fill="#a01a1f" stroke="#a01a1f" text-anchor="start" letter-spacing="0.2">Inzie</text>
<path d="M1201.8 610.9L1216.2 624.7M1201.8 624.7L1216.2 610.9" stroke="#cb671b" stroke-width="2.7" fill="none"/>
<text x="1224" y="626.3" font-size="23.5" fill="#0a0a0a" stroke="#0a0a0a" text-anchor="start" letter-spacing="0.24">Etive</text>
<path d="M1201.8 661.9L1216.2 675.7M1201.8 675.7L1216.2 661.9" stroke="#cb671b" stroke-width="2.7" fill="none"/>
<text x="1224" y="677.3" font-size="23.5" fill="#0a0a0a" stroke="#0a0a0a" text-anchor="start" letter-spacing="0.24">Etive</text>
<path d="M1170.3 788.8L1184.7 802.6M1170.3 802.6L1184.7 788.8" stroke="#cb671b" stroke-width="2.7" fill="none"/>
<text x="1194" y="803.8" font-size="23.5" fill="#0a0a0a" stroke="#0a0a0a" text-anchor="start" letter-spacing="0.24">Arrochar</text>
<path d="M1170.3 816.3L1184.7 830.1M1170.3 830.1L1184.7 816.3" stroke="#cb671b" stroke-width="2.7" fill="none"/>
<text x="1194" y="831.8" font-size="23.5" fill="#0a0a0a" stroke="#0a0a0a" text-anchor="start" letter-spacing="0.24">Lorn lavas</text>
<path d="M1170.3 857.9L1184.7 871.7M1170.3 871.7L1184.7 857.9" stroke="#cb671b" stroke-width="2.7" fill="none"/>
<text x="1194" y="872.8" font-size="23.5" fill="#0a0a0a" stroke="#0a0a0a" text-anchor="start" letter-spacing="0.24">Rubha</text>
<text x="1208" y="895.7" font-size="23.5" fill="#0a0a0a" stroke="#0a0a0a" text-anchor="start" letter-spacing="0.24">Mor</text>
<circle cx="969" cy="1454.5" r="6.7" fill="#2b4f90"/>
<text x="984" y="1462.5" font-size="23.5" fill="#0a0a0a" stroke="#0a0a0a" text-anchor="start" letter-spacing="0.4">Metabasic Dava</text>
<text x="942" y="1558" font-size="23.5" fill="#a01a1f" stroke="#a01a1f" text-anchor="start" letter-spacing="0.24">Aberdeen</text>
<path d="M961.8 1568.4L976.2 1582.2M961.8 1582.2L976.2 1568.4" stroke="#a01a1f" stroke-width="2.7" fill="none"/>
<path d="M1021.8 1567.9L1036.2 1581.7M1021.8 1581.7L1036.2 1567.9" stroke="#1f8238" stroke-width="2.7" fill="none"/>
<text x="1044.4" y="1582.5" font-size="23.5" fill="#0a0a0a" stroke="#0a0a0a" text-anchor="start" letter-spacing="0.24">Inch gabbro</text>
<circle cx="969" cy="1598.5" r="6.7" fill="#2b4f90"/>
<text x="984" y="1609" font-size="23.5" fill="#0a0a0a" stroke="#0a0a0a" text-anchor="start" letter-spacing="0.24">Leven schist</text>
<path d="M1021.8 1638.6L1036.2 1652.4M1021.8 1652.4L1036.2 1638.6" stroke="#1f8238" stroke-width="2.7" fill="none"/>
<text x="1044.4" y="1652.8" font-size="23.5" fill="#0a0a0a" stroke="#0a0a0a" text-anchor="start" letter-spacing="0.24">Portsoy gabbro</text>
<path d="M961.8 1655.4L976.2 1669.2M961.8 1669.2L976.2 1655.4" stroke="#a01a1f" stroke-width="2.7" fill="none"/>
<text x="942" y="1692.5" font-size="23.5" fill="#a01a1f" stroke="#a01a1f" text-anchor="start" letter-spacing="0.24">Auchlea</text>
<text x="893" y="1756.5" font-size="30.1" fill="#0a0a0a" stroke="#0a0a0a" text-anchor="end">Continental</text>
<text x="945" y="1756.5" font-size="30.1" fill="#0a0a0a" stroke="#0a0a0a" text-anchor="start">Collision</text>
<text x="894.6" y="1888.8" font-size="30.1" fill="#0a0a0a" stroke="#0a0a0a" text-anchor="end">Ophiolite</text>
<text x="945" y="1888.8" font-size="30.1" fill="#0a0a0a" stroke="#0a0a0a" text-anchor="start">Obduction</text>
<path d="M1399.8 615.4L1408.3 633.9L1399.8 629.4L1391.3 633.9Z" fill="#1a3a86"/>
<line x1="1399.8" y1="628" x2="1399.8" y2="655.4" stroke="#1a3a86" stroke-width="4" />
<line x1="1399.8" y1="673.6" x2="1399.8" y2="703.4" stroke="#1a3a86" stroke-width="4" />
<text x="1408.6" y="790.6" font-size="27.3" fill="#1a3a86" stroke="#1a3a86" text-anchor="middle" transform="rotate(-90 1408.6 790.6)">BARROVIAN</text>
<line x1="1399.8" y1="878.3" x2="1399.8" y2="911.4" stroke="#1a3a86" stroke-width="4" />
<line x1="1399.8" y1="928.6" x2="1399.8" y2="962.8" stroke="#1a3a86" stroke-width="4" />
<line x1="1399.8" y1="980" x2="1399.8" y2="1014.3" stroke="#1a3a86" stroke-width="4" />
<line x1="1399.8" y1="1031.4" x2="1399.8" y2="1065.7" stroke="#1a3a86" stroke-width="4" />
<line x1="1399.8" y1="1094.2" x2="1399.8" y2="1269.5" stroke="#1a3a86" stroke-width="2" />
<text x="1408.6" y="1358.2" font-size="27.3" fill="#1a3a86" stroke="#1a3a86" text-anchor="middle" transform="rotate(-90 1408.6 1358.2)">BARROVIAN</text>
<text x="1439.8" y="1358.3" font-size="27.3" fill="#1a3a86" stroke="#1a3a86" text-anchor="middle" transform="rotate(-90 1439.8 1358.3)" style="stroke-width:0.2px">metamorphism</text>
<line x1="1399.8" y1="1445.1" x2="1399.8" y2="1652" stroke="#1a3a86" stroke-width="2" />
<path d="M1399.8 1666L1408.3 1645.5L1399.8 1651.0L1391.3 1645.5Z" fill="#1a3a86"/>
<text x="1472.3" y="730" font-size="27.3" fill="#0a0a0a" stroke="#0a0a0a" text-anchor="middle" transform="rotate(-90 1472.3 730)">MOINE THRUST</text>
<line x1="1488.7" y1="606" x2="1488.7" y2="858" stroke="#050505" stroke-width="2" />
<path d="M1488.7 593.7L1497.2 614.2L1488.7 608.7L1480.2 614.2Z" fill="#050505"/>
<path d="M1488.7 870.6L1497.2 850.1L1488.7 855.6L1480.2 850.1Z" fill="#050505"/>
<text x="1572.1" y="654.6" font-size="27.3" fill="#0a0a0a" stroke="#0a0a0a" text-anchor="middle" transform="rotate(-90 1572.1 654.6)">‘NEWER’ GRANITES</text>
<line x1="1564.8" y1="1200" x2="1564.8" y2="1646" stroke="#050505" stroke-width="2" />
<path d="M1564.8 1187.9L1573.3 1208.4L1564.8 1202.9L1556.3 1208.4Z" fill="#050505"/>
<path d="M1564.8 1658.8L1573.3 1638.3L1564.8 1643.8L1556.3 1638.3Z" fill="#050505"/>
<text x="1594.5" y="1425" font-size="27.3" fill="#0a0a0a" stroke="#0a0a0a" text-anchor="middle" transform="rotate(-90 1594.5 1425)">S-type granites</text>
<path d="M1341.3 1468.6L1350.05 1487.3L1341.3 1482.8L1332.55 1487.3Z" fill="#1f8238"/>
<line x1="1341.3" y1="1481" x2="1341.3" y2="1527.4" stroke="#1f8238" stroke-width="2.2" />
<text x="1350" y="1591.1" font-size="27.3" fill="#1f8238" stroke="#1f8238" text-anchor="middle" transform="rotate(-90 1350 1591.1)">BUCHAN</text>
<line x1="1341.3" y1="1651.4" x2="1341.3" y2="1693" stroke="#1f8238" stroke-width="2.2" />
<path d="M1341.3 1705.6L1350.05 1686.8999999999999L1341.3 1691.3999999999999L1332.55 1686.8999999999999Z" fill="#1f8238"/>
<path d="M280.5 2163.2L294.5 2176.4M280.5 2176.4L294.5 2163.2" stroke="#a01a1f" stroke-width="2.8" fill="none"/>
<text x="310" y="2178.5" font-size="25.5" fill="#0a0a0a" stroke="#0a0a0a" text-anchor="start" letter-spacing="0.75">U<tspan dx="2.2">-</tspan><tspan dx="2.2">Pb</tspan> zircon Dalradian Granites</text>
<path d="M280.5 2207.9L294.5 2221.1M280.5 2221.1L294.5 2207.9" stroke="#1a3a86" stroke-width="2.8" fill="none"/>
<text x="310" y="2223.5" font-size="25.5" fill="#0a0a0a" stroke="#0a0a0a" text-anchor="start" letter-spacing="0.75">U<tspan dx="2.2">-</tspan><tspan dx="2.2">Pb</tspan> zircon Moine Granites</text>
<path d="M280.5 2253.4L294.5 2266.6M280.5 2266.6L294.5 2253.4" stroke="#cb671b" stroke-width="2.8" fill="none"/>
<text x="310" y="2269" font-size="25.5" fill="#0a0a0a" stroke="#0a0a0a" text-anchor="start" letter-spacing="0.75">U<tspan dx="2.2">-</tspan><tspan dx="2.2">Pb</tspan> zircon alkali syenites</text>
<rect x="747.3" y="2152.3" width="20.5" height="30.7" fill="#96c066"/>
<text x="784" y="2178.5" font-size="25.5" fill="#0a0a0a" stroke="#0a0a0a" text-anchor="start" letter-spacing="0.75">U<tspan dx="2.2">-</tspan><tspan dx="2.2">Pb</tspan> monazite - Moine Supergroup</text>
<rect x="747.3" y="2201.3" width="20.5" height="30.7" fill="#2b4f90"/>
<text x="784" y="2226" font-size="25.5" fill="#0a0a0a" stroke="#0a0a0a" text-anchor="start" letter-spacing="0.75">Sm<tspan dx="2.2">-</tspan><tspan dx="2.2">Nd, Lu</tspan><tspan dx="2.2">-</tspan><tspan dx="2.2">Hf garnet</tspan></text>
<circle cx="1069.5" cy="2217" r="6.7" fill="#2b4f90"/>
</svg>
</body></html>
